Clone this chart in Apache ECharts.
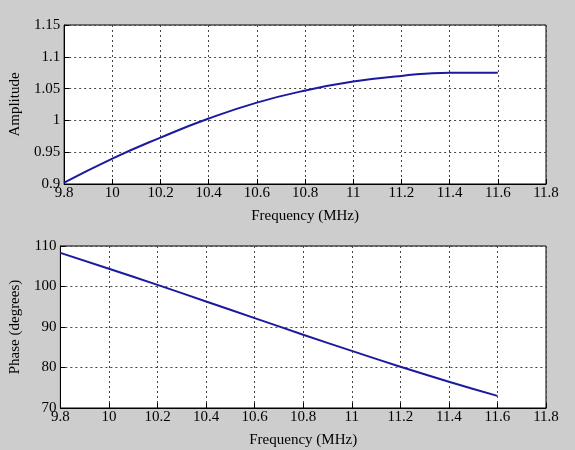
<!DOCTYPE html><html><head><meta charset="utf-8"><script src="https://cdn.jsdelivr.net/npm/echarts@6/dist/echarts.min.js"></script>
<style>html,body{margin:0;padding:0;background:#cdcdcd}#c{width:575px;height:450px}</style></head><body><div id="c"></div><script>
const freq=[9.8,10,10.2,10.4,10.6,10.8,11,11.2,11.4,11.6];
const amplitude=[0.902,0.940,0.973,1.003,1.028,1.047,1.061,1.070,1.075,1.075];
const phase=[108.3,104.4,100.4,96.3,92.2,88.1,84.1,80.2,76.5,73.0];
const font='Liberation Serif';
const grid=(top,h)=>({left:59,width:487,top:top,height:h,show:true,backgroundColor:'#fff',borderColor:'#000',borderWidth:1});
const xa=(i)=>({type:'value',gridIndex:i,min:9.8,max:11.8,interval:0.2,name:'Frequency (MHz)',nameLocation:'middle',nameGap:25,
 nameTextStyle:{fontFamily:font,fontSize:15,color:'#000'},axisLine:{lineStyle:{color:'#000'}},axisTick:{inside:true,lineStyle:{color:'#000'}},
 axisLabel:{fontFamily:font,fontSize:15,color:'#000',margin:2,formatter:v=>+v.toFixed(1)+''},splitLine:{lineStyle:{type:[2,3],color:'#444'}}});
const ya=(i,min,max,iv,name,gap)=>({type:'value',gridIndex:i,min:min,max:max,interval:iv,name:name,nameLocation:'middle',nameGap:gap,
 nameTextStyle:{fontFamily:font,fontSize:15,color:'#000'},axisLine:{lineStyle:{color:'#000'}},axisTick:{inside:true,lineStyle:{color:'#000'}},
 axisLabel:{fontFamily:font,fontSize:15,color:'#000',margin:4,formatter:v=>+v.toFixed(2)+''},splitLine:{lineStyle:{type:[2,3],color:'#444'}}});
const ch=echarts.init(document.getElementById('c'));
ch.setOption({animation:false,grid:[grid(25,159),grid(246,162)],
 xAxis:[xa(0),xa(1)],yAxis:[ya(0,0.9,1.15,0.05,'Amplitude',36),ya(1,70,110,10,'Phase (degrees)',30)],
 series:[{type:'line',xAxisIndex:0,yAxisIndex:0,data:freq.map((f,i)=>[f,amplitude[i]]),smooth:true,showSymbol:false,lineStyle:{color:'#1a1aa0',width:2}},
 {type:'line',xAxisIndex:1,yAxisIndex:1,data:freq.map((f,i)=>[f,phase[i]]),smooth:true,showSymbol:false,lineStyle:{color:'#1a1aa0',width:2}}]});
</script></body></html>
